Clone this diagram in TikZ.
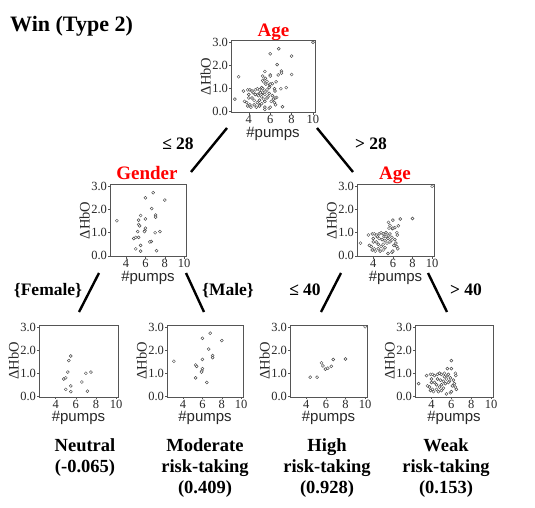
\documentclass[tikz,border=0pt]{standalone}
\usepackage{fontspec}
\setmainfont{Liberation Serif}
\setsansfont{Liberation Sans}
\usepackage{tikz}
\usetikzlibrary{positioning,calc}
\definecolor{SplitRed}{RGB}{255,0,0}
\definecolor{AxisGray}{RGB}{85,85,85}
\definecolor{DotGray}{RGB}{70,70,70}
\definecolor{TextGray}{RGB}{40,40,40}

% points of the four leaves (#pumps / delta HbO)
\def\ptsFemale{5.5/1.75,5.3/1.55,5.2/1.05,5.0/0.8,4.8/0.75,5.0/0.3,5.5/0.45,5.5/0.2,6.6/0.62,7.0/1.0,7.5/1.05,7.15/0.22}
\def\ptsMale{3.05/1.52,6.8/2.74,6.0/2.52,8.0/2.42,6.65/2.05,7.05/1.77,7.05/1.68,6.0/1.6,5.3/1.36,5.4/1.3,6.0/1.2,5.95/1.1,5.9/1.05,5.3/0.8,6.45/0.6}
\def\ptsHigh{10.0/3.02,8.0/1.62,6.75/1.6,5.55/1.45,5.7/1.32,5.95/1.18,6.2/1.22,6.55/1.3,4.4/0.83,5.1/0.83}
\def\ptsWeak{2.7/0.55,3.5/0.9,3.9/0.95,4.1/0.95,4.3/0.9,4.6/0.95,4.8/1.0,5.0/0.95,5.3/0.85,5.6/1.2,6.0/1.55,6.0/1.2,6.4/1.0,6.45/0.9,6.2/0.7,6.3/0.55,6.4/0.4,5.9/0.8,5.8/0.65,5.7/0.6,5.5/0.75,5.4/0.55,5.2/0.65,5.0/0.5,4.8/0.4,4.5/0.5,4.3/0.6,4.0/0.6,3.6/0.45,3.8/0.4,4.1/0.3,4.2/0.2,4.5/0.3,4.7/0.2,5.0/0.25,5.5/0.1,5.9/0.15,6.0/0.2,5.6/0.9,5.3/1.0,4.9/0.7,4.6/0.75,6.1/0.45,5.7/0.95,4.0/0.75,3.9/0.25,6.5/0.3,5.2/0.35}
\edef\ptsGender{\ptsFemale,\ptsMale}
\edef\ptsAgeR{\ptsHigh,\ptsWeak}
\edef\ptsAll{\ptsGender,\ptsAgeR}

\newcommand{\hboplot}[4]{% name, centre, width, points
  \node[frame, minimum width=#3pt] (#1) at (#2) {};
  \node[ylab] (#1-y) at ([xshift=-25pt]#1.west) {ΔHbO};
  \node[xlab] (#1-x) at ([yshift=-21pt]#1.south) {\#pumps};
  \begin{scope}[shift={(#1.south west)}, x={({#3/7.85*1pt},0pt)}, y={(0pt,{72/3.13*1pt})}, shift={(-2.3,0.05)}]
    \foreach \t in {4,6,8,10} {
      \draw[tick] (\t,-0.05) -- ++(0,-2pt);
      \node[ticklab, anchor=north] (#1-t\t) at ([yshift=-1.5pt]\t,-0.05) {\t};
    }
    \foreach \t in {0,1,2,3} {
      \draw[tick] (2.3,\t) -- ++(-2pt,0);
      \node[ticklab, anchor=east] (#1-v\t) at ([xshift=-1.5pt]2.3,\t) {\t.0};
    }
    \foreach \a/\b in #4 \draw[dot] (\a,\b) circle[radius=1.5pt];
  \end{scope}}

\begin{document}
\begin{tikzpicture}[
 x=1pt, y=-1pt,
 frame/.style={draw=AxisGray, line width=0.8pt, minimum height=72pt, inner sep=0pt},
 dot/.style={draw=DotGray, fill=white, line width=0.45pt},
 tick/.style={draw=AxisGray, line width=0.5pt},
 ticklab/.style={inner sep=1pt, text=TextGray, font=\fontsize{12.5}{13}\selectfont},
 ylab/.style={rotate=90, inner sep=0pt, text=TextGray, font=\fontsize{14.5}{15}\selectfont},
 xlab/.style={inner sep=0pt, text=TextGray, font=\sffamily\fontsize{15}{16}\selectfont},
 split/.style={anchor=base, inner sep=0pt, text=SplitRed, font=\bfseries\fontsize{19}{21}\selectfont},
 cond/.style={anchor=base, inner sep=0pt, font=\bfseries\fontsize{17.5}{20}\selectfont},
 leaf/.style={anchor=north, align=center, inner sep=0pt, font=\bfseries\fontsize{18.5}{21}\selectfont},
 branch/.style={line width=2.4pt}
]
\useasboundingbox[fill=white] (0,0) rectangle (535,508);

\node[anchor=base west, inner sep=0pt, font=\bfseries\fontsize{22}{26}\selectfont] (title) at (10,32) {Win (Type 2)};

% split nodes
\node[split] (rootlab) at (273.5,36.5) {Age};
\hboplot{root}{273,76.5}{84}{\ptsAll}
\node[split] (genderlab) at (147,179) {Gender};
\hboplot{gender}{148,220.5}{76}{\ptsGender}
\node[split] (agelab) at (395,179) {Age};
\hboplot{age}{395.5,220.5}{77}{\ptsAgeR}

% leaves
\hboplot{female}{78.5,361}{79}{\ptsFemale}
\hboplot{male}{205,361}{76}{\ptsMale}
\hboplot{high}{328.5,361}{77}{\ptsHigh}
\hboplot{weak}{454,361}{78}{\ptsWeak}

\node[leaf] (neutral) at (85,438) {Neutral\\(-0.065)};
\node[leaf] (moderate) at (205,438) {Moderate\\risk-taking\\(0.409)};
\node[leaf] (hightake) at (327,438) {High\\risk-taking\\(0.928)};
\node[leaf] (weaktake) at (446,438) {Weak\\risk-taking\\(0.153)};

% branch conditions
\node[cond] (le28) at (178,149) {≤ 28};
\node[cond] (gt28) at (371,149) {> 28};
\node[cond] (fem) at (48,295) {\{Female\}};
\node[cond] (mal) at (228,295) {\{Male\}};
\node[cond] (le40) at (305,295) {≤ 40};
\node[cond] (gt40) at (466,295) {> 40};

\coordinate (rootL) at (227,128);
\coordinate (rootR) at (317,128);
\coordinate (genderT) at (191,172);
\coordinate (ageT) at (353,172);
\coordinate (genderL) at (99,273);
\coordinate (genderR) at (186,273);
\coordinate (ageL) at (341,273);
\coordinate (ageR) at (428,273);
\coordinate (femaleT) at (79,312);
\coordinate (maleT) at (204,312);
\coordinate (highT) at (321,312);
\coordinate (weakT) at (447,312);

\draw[branch] (rootL) -- (genderT);
\draw[branch] (rootR) -- (ageT);
\draw[branch] (genderL) -- (femaleT);
\draw[branch] (genderR) -- (maleT);
\draw[branch] (ageL) -- (highT);
\draw[branch] (ageR) -- (weakT);
\end{tikzpicture}
\end{document}
